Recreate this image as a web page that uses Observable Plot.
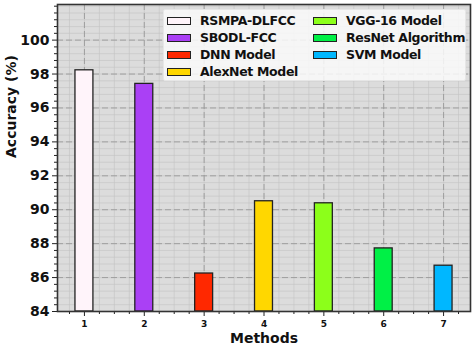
<!DOCTYPE html>
<html>
<head>
<meta charset="utf-8">
<script src="https://cdn.jsdelivr.net/npm/d3@7"></script>
<script src="https://cdn.jsdelivr.net/npm/@observablehq/plot@0.6"></script>
<style>
  html, body { margin: 0; padding: 0; background: #fff; }
  #wrap { position: relative; width: 474px; height: 347px; font-family: "DejaVu Sans", sans-serif; }
  #legend { position: absolute; left: 163px; top: 9px; width: 303px; height: 72px;
    background: rgba(250,250,250,0.85); border: 1px solid #e6e6e6; border-radius: 2px; box-sizing: border-box;
    display: grid; grid-template-columns: 146px 152px; grid-auto-flow: column; grid-template-rows: repeat(4, 17px);
    padding: 2px 0 0 3px; font-weight: bold; font-size: 12.5px; letter-spacing: -0.35px; color: #111; }
  .item { display: flex; align-items: center; white-space: nowrap; }
  .sw { width: 22px; height: 6px; border: 1px solid #222; margin-right: 9px; flex: none; }
</style>
</head>
<body>
<div id="wrap"><div id="chart"></div><div id="legend"></div></div>
<script>
const methods = [1, 2, 3, 4, 5, 6, 7];
const names = ["RSMPA-DLFCC", "SBODL-FCC", "DNN Model", "AlexNet Model", "VGG-16 Model", "ResNet Algorithm", "SVM Model"];
const accuracy = [98.22, 97.42, 86.24, 90.5, 90.38, 87.72, 86.7];
const colors = ["#fff4fa", "#aa40f5", "#ff2800", "#ffd700", "#8cff1a", "#00f046", "#00b7ff"];
const yTicks = [84, 86, 88, 90, 92, 94, 96, 98, 100];

const data = methods.map((m, i) => ({method: m, name: names[i], acc: accuracy[i], color: colors[i]}));
const yMinor = d3.range(84, 102.1, 0.4).map(v => +v.toFixed(2));
const xMinor = d3.range(0.75, 7.5, 0.25);
const halfW = 0.15;

const chart = Plot.plot({
  width: 474, height: 347,
  marginLeft: 57, marginRight: 4, marginTop: 4, marginBottom: 36,
  style: {fontFamily: "DejaVu Sans, sans-serif", background: "transparent"},
  x: {domain: [0.55, 7.45], label: null},
  y: {domain: [84, 102.1], label: null},
  marks: [
    Plot.frame({fill: "#dcdcdc"}),
    Plot.gridY(yMinor, {stroke: "#c2c2c2", strokeOpacity: 1, strokeWidth: 0.6}),
    Plot.gridX(xMinor, {stroke: "#c2c2c2", strokeOpacity: 1, strokeWidth: 0.6}),
    Plot.gridY(yTicks, {stroke: "#9a9a9a", strokeOpacity: 1, strokeWidth: 0.9, strokeDasharray: "6,3"}),
    Plot.gridX(methods, {stroke: "#9a9a9a", strokeOpacity: 1, strokeWidth: 0.9, strokeDasharray: "6,3"}),
    Plot.rectY(data, {x1: d => d.method - halfW, x2: d => d.method + halfW, y1: 84, y2: "acc", fill: "color", stroke: "#222", strokeWidth: 1.3}),
    Plot.axisY(yMinor.filter(v => !yTicks.includes(v)), {tickSize: 3, tickFormat: () => "", stroke: "#222", label: null}),
    Plot.axisY(yTicks, {tickSize: 5, tickPadding: 3, fontSize: 14, fontWeight: "bold", fill: "#111", stroke: "#222", label: null}),
    Plot.axisX(xMinor.filter(v => !methods.includes(v)), {tickSize: 3, tickFormat: () => "", stroke: "#222", label: null}),
    Plot.axisX(methods, {tickSize: 5, tickPadding: 4, fontSize: 9, fontWeight: "bold", fill: "#111", stroke: "#222", label: null}),
    Plot.frame({stroke: "#333", strokeWidth: 1.6}),
    Plot.text(["Accuracy (%)"], {frameAnchor: "left", dx: -46, rotate: -90, fontSize: 14, fontWeight: "bold", fill: "#111"}),
    Plot.text(["Methods"], {frameAnchor: "bottom", dy: 31, fontSize: 14, fontWeight: "bold", fill: "#111"})
  ]
});
document.getElementById("chart").appendChild(chart);

const leg = document.getElementById("legend");
data.forEach(d => {
  const it = document.createElement("div");
  it.className = "item";
  it.innerHTML = `<span class="sw" style="background:${d.color}"></span><span>${d.name}</span>`;
  leg.appendChild(it);
});
</script>
</body>
</html>
